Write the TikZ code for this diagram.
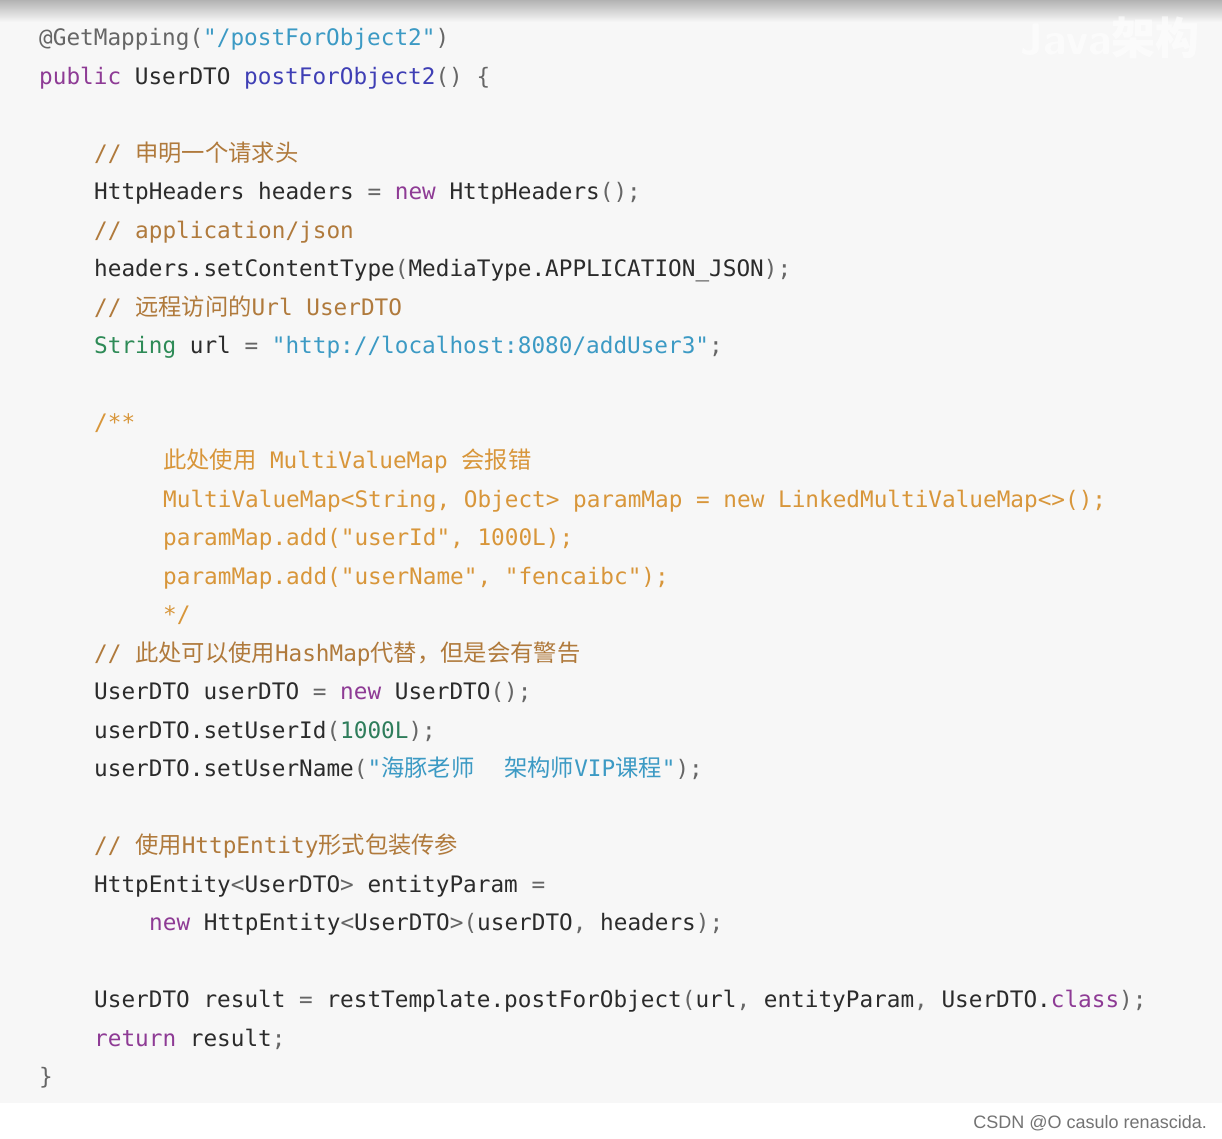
\documentclass[tikz,border=0pt]{standalone}
\usepackage{fontspec}
\setmonofont{DejaVu Sans Mono}
\newfontfamily\cjkf{Noto Sans CJK SC}
\newfontfamily\sansf{Liberation Sans}
\definecolor{bgc}{HTML}{F7F7F7}
\definecolor{txc}{HTML}{2B2B2B}
\definecolor{kwc}{HTML}{8E3B95}
\definecolor{stc}{HTML}{3C9AC4}
\definecolor{cmc}{HTML}{B07A3C}
\definecolor{bcc}{HTML}{D8963A}
\definecolor{nmc}{HTML}{2E7D5B}
\definecolor{fnc}{HTML}{3F3FB5}
\definecolor{puc}{HTML}{666666}
\definecolor{tyc}{HTML}{2E8B57}
\newcommand{\kw}[1]{\textcolor{kwc}{#1}}
\newcommand{\st}[1]{\textcolor{stc}{#1}}
\newcommand{\nm}[1]{\textcolor{nmc}{#1}}
\newcommand{\fn}[1]{\textcolor{fnc}{#1}}
\newcommand{\pu}[1]{\textcolor{puc}{#1}}
\newcommand{\zh}[1]{{\cjkf\fontsize{23.3}{26}\selectfont #1}}
\begin{document}
\begin{tikzpicture}[x=1pt,y=-1pt,
  code/.style={anchor=base west,inner sep=0pt,text=txc,font=\ttfamily\fontsize{22.7}{26}\selectfont}]
\useasboundingbox (0,0) rectangle (1222,1138);
\fill[bgc] (0,0) rectangle (1222,1103);
\fill[white] (0,1103) rectangle (1222,1138);
\shade[top color=black!30,bottom color=bgc] (0,0) rectangle (1222,22);
\node[code,text=white,opacity=0.6,font=\sffamily\bfseries\fontsize{44}{48}\selectfont] (wm) at (1020,54) {Java\zh{\fontsize{44}{48}\selectfont 架构}};
\node[code] (l1) at (39,45) {\pu{@GetMapping(}\st{"/postForObject2"}\pu{)}};
\node[code] (l2) at (39,84) {\kw{public} UserDTO \fn{postForObject2}\pu{()} \pu{\{}};
\node[code,text=cmc] (l3) at (94,161) {// \zh{申明一个请求头}};
\node[code] (l4) at (94,199) {HttpHeaders headers \pu{=} \kw{new} HttpHeaders\pu{();}};
\node[code,text=cmc] (l5) at (94,238) {// application/json};
\node[code] (l6) at (94,276) {headers.setContentType\pu{(}MediaType.APPLICATION\_JSON\pu{);}};
\node[code,text=cmc] (l7) at (94,315) {// \zh{远程访问的}Url UserDTO};
\node[code] (l8) at (94,353) {\textcolor{tyc}{String} url \pu{=} \st{"http://localhost:8080/addUser3"}\pu{;}};
\node[code,text=bcc] (l9) at (94,430) {/**};
\node[code,text=bcc] (l10) at (163,468) {\zh{此处使用} MultiValueMap \zh{会报错}};
\node[code,text=bcc] (l11) at (163,507) {MultiValueMap<String, Object> paramMap = new LinkedMultiValueMap<>();};
\node[code,text=bcc] (l12) at (163,545) {paramMap.add("userId", 1000L);};
\node[code,text=bcc] (l13) at (163,584) {paramMap.add("userName", "fencaibc");};
\node[code,text=bcc] (l14) at (163,622) {*/};
\node[code,text=cmc] (l15) at (94,661) {// \zh{此处可以使用}HashMap\zh{代替，但是会有警告}};
\node[code] (l16) at (94,699) {UserDTO userDTO \pu{=} \kw{new} UserDTO\pu{();}};
\node[code] (l17) at (94,738) {userDTO.setUserId\pu{(}\nm{1000L}\pu{);}};
\node[code] (l18) at (94,776) {userDTO.setUserName\pu{(}\st{"\zh{海豚老师}\hspace{30pt}\zh{架构师}VIP\zh{课程}"}\pu{);}};
\node[code,text=cmc] (l19) at (94,853) {// \zh{使用}HttpEntity\zh{形式包装传参}};
\node[code] (l20) at (94,892) {HttpEntity\pu{<}UserDTO\pu{>} entityParam \pu{=}};
\node[code] (l21) at (149,930) {\kw{new} HttpEntity\pu{<}UserDTO\pu{>(}userDTO\pu{,} headers\pu{);}};
\node[code] (l22) at (94,1007) {UserDTO result \pu{=} restTemplate.postForObject\pu{(}url\pu{,} entityParam\pu{,} UserDTO.\kw{class}\pu{);}};
\node[code] (l23) at (94,1046) {\kw{return} result\pu{;}};
\node[code] (l24) at (39,1084) {\pu{\}}};
\node[anchor=base east,inner sep=0pt,text=black!55,font=\sansf\fontsize{18}{20}\selectfont] (csdn) at (1207,1128) {CSDN @O casulo renascida.};
\end{tikzpicture}
\end{document}
